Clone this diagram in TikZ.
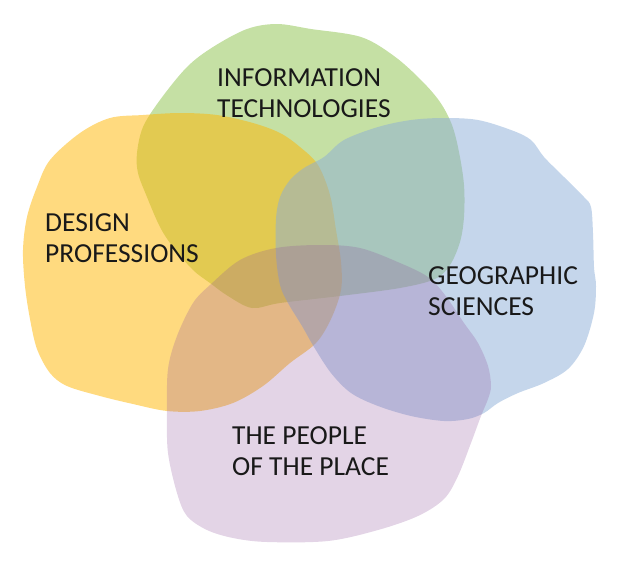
\documentclass[tikz,border=0pt]{standalone}
\usepackage{fontspec}
\setmainfont{Carlito}
\definecolor{itgreen}{RGB}{139,193,73}
\definecolor{dpyellow}{RGB}{255,181,0}
\definecolor{gsblue}{RGB}{139,173,215}
\definecolor{pppurple}{RGB}{143,83,155}
\begin{document}
\begin{tikzpicture}[x=1pt,y=-1pt,
  blob/.style={fill opacity=0.5},
  areatext/.style={anchor=base west,align=left,inner sep=0pt,text=black!90,
    font=\fontsize{27.5}{31}\selectfont}]
  \useasboundingbox (0,0) rectangle (622,571);
  % information technologies
  \fill[blob,itgreen] plot[smooth cycle,tension=0.55] coordinates {(247,29) (277,24) (311,29) (361,37) (394,56) (421,80) (440,102) (452,125) (459,152) (464,185) (464,217) (460,242) (450,265) (435,279) (400,288) (340,296) (280,303) (252,308) (228,296) (210,283) (193,270) (173,247) (160,227) (147,197) (138,173) (137,153) (143,127) (160,100) (187,67) (213,47)};
  % design professions
  \fill[blob,dpyellow] plot[smooth cycle,tension=0.55] coordinates {(80,133) (110,118) (143,115) (180,113) (217,115) (253,123) (280,133) (300,147) (318,165) (330,195) (336,230) (341,262) (341,290) (331,319) (316,343) (290,363) (263,386) (233,403) (200,411) (167,411) (133,404) (100,396) (67,386) (50,373) (37,349) (30,319) (25,286) (23,250) (27,217) (37,187) (50,160)};
  % geographic sciences
  \fill[blob,gsblue] plot[smooth cycle,tension=0.55] coordinates {(324,157) (344,140) (378,127) (411,120) (444,118) (478,120) (511,130) (531,140) (544,157) (564,177) (584,197) (591,207) (593,233) (594,267) (596,286) (594,313) (584,346) (568,369) (544,383) (518,393) (498,403) (484,413) (468,419) (444,421) (411,416) (378,406) (351,393) (331,373) (314,347) (302,326) (288,303) (280,285) (276,255) (276,219) (280,197) (290,180) (304,168)};
  % the people of the place
  \fill[pppurple,fill opacity=0.25] plot[smooth cycle,tension=0.55] coordinates {(276,248) (320,245) (360,248) (400,263) (428,277) (445,295) (464,323) (478,343) (488,366) (491,386) (488,399) (481,416) (471,443) (458,476) (444,499) (418,516) (378,530) (328,541) (267,542) (233,538) (207,530) (187,516) (177,493) (168,453) (167,413) (168,369) (177,336) (193,303) (210,285) (240,260)};
  \node[areatext] (infotech) at (217,117) {INFORMATION\\TECHNOLOGIES};
  \node[areatext] (design) at (45,262) {DESIGN\\PROFESSIONS};
  \node[areatext] (geo) at (428,315) {GEOGRAPHIC\\SCIENCES};
  \node[areatext] (people) at (232,475) {THE PEOPLE\\OF THE PLACE};
\end{tikzpicture}
\end{document}
